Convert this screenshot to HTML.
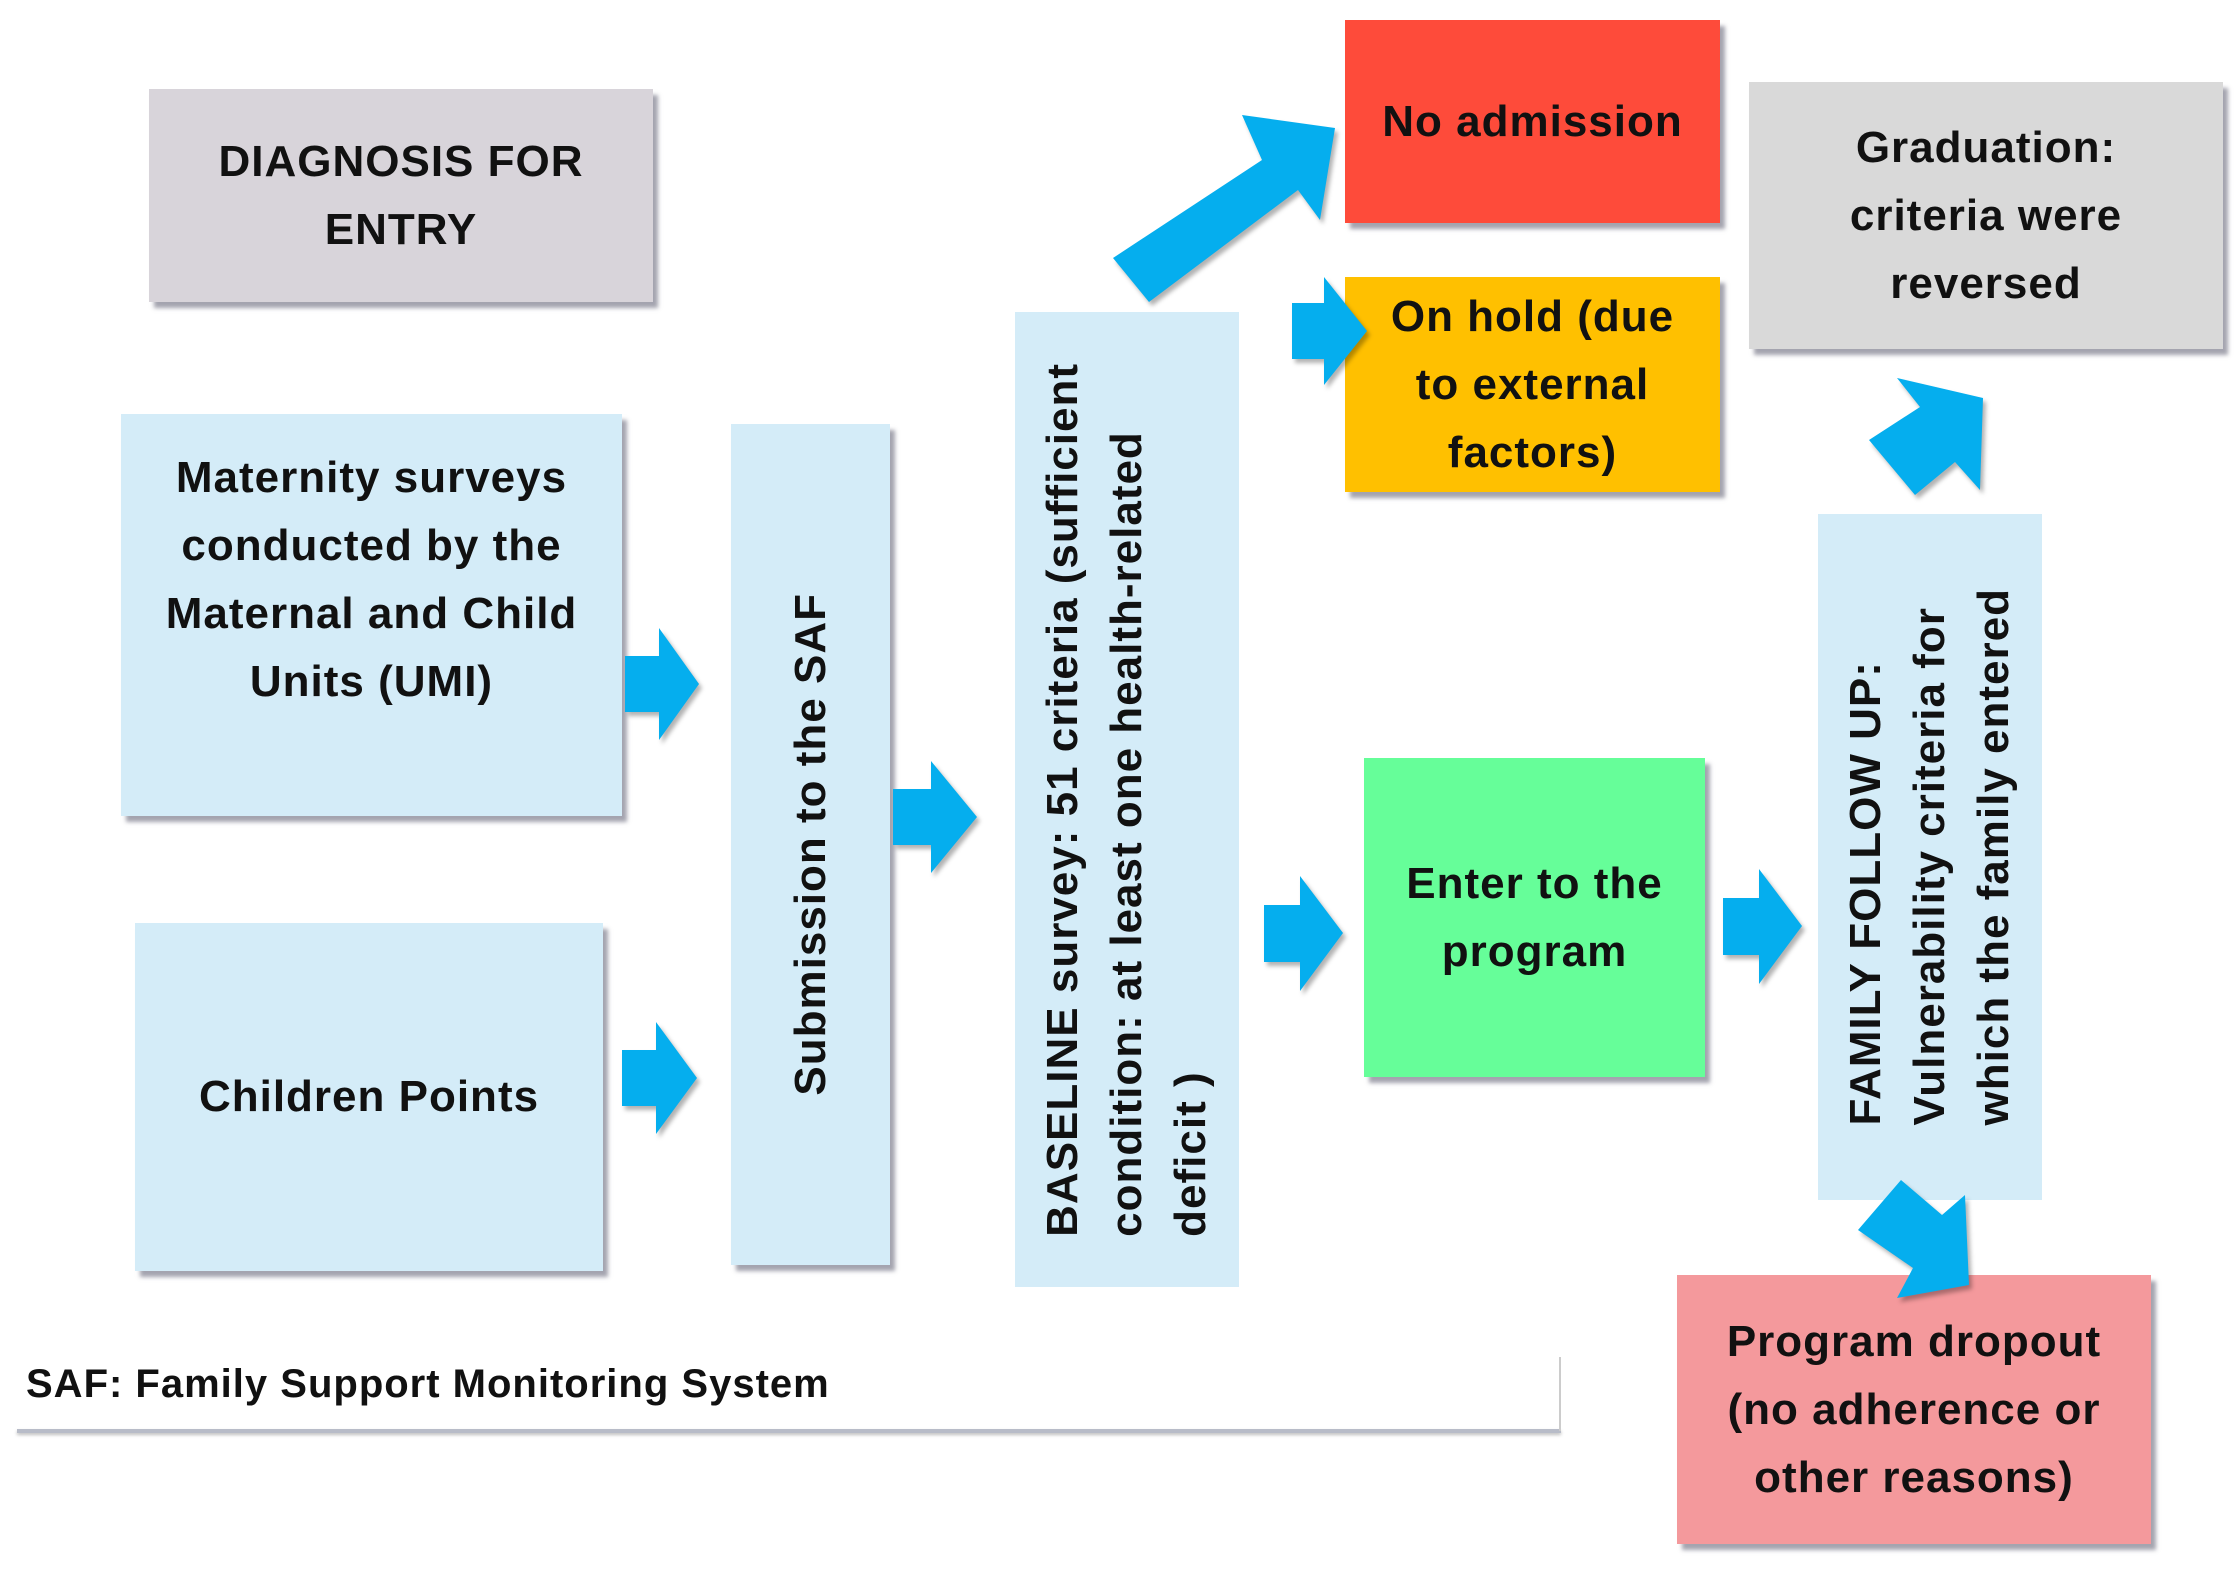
<!DOCTYPE html>
<html><head><meta charset="utf-8"><style>
html,body{margin:0;padding:0;background:#fff;}
body{width:2240px;height:1571px;position:relative;overflow:hidden;font-family:"Liberation Sans",sans-serif;font-weight:bold;color:#111;}
.b{position:absolute;display:flex;align-items:center;justify-content:center;text-align:center;box-sizing:border-box;font-size:44px;line-height:68px;letter-spacing:1px;}
.sh{box-shadow:5px 6px 4px rgba(90,90,110,.55);}
.v{writing-mode:vertical-rl;transform:rotate(180deg);}
.lb{background:#d4ecf8;}
</style></head><body>
<div class="b sh" style="left:149px;top:89px;width:504px;height:213px;background:#d8d4da;">DIAGNOSIS FOR<br>ENTRY</div>
<div class="b sh lb" style="left:121px;top:414px;width:501px;height:402px;padding-bottom:70px;">Maternity surveys<br>conducted by the<br>Maternal and Child<br>Units (UMI)</div>
<div class="b sh lb" style="left:135px;top:923px;width:468px;height:348px;">Children Points</div>
<div class="b sh lb" style="left:731px;top:424px;width:159px;height:841px;font-weight:normal;font-family:'Liberation Sans',sans-serif;"><span class="v" style="font-weight:bold;">Submission to the SAF</span></div>
<div class="b lb" style="left:1015px;top:312px;width:224px;height:975px;"><span class="v" style="line-height:64px;text-align:left;">BASELINE survey: 51 criteria (sufficient<br>condition: at least one health-related<br>deficit )</span></div>
<div class="b sh" style="left:1345px;top:20px;width:375px;height:203px;background:#fe4b3a;">No admission</div>
<div class="b sh" style="left:1345px;top:277px;width:375px;height:215px;background:#ffc000;">On hold (due<br>to external<br>factors)</div>
<div class="b sh" style="left:1749px;top:82px;width:474px;height:267px;background:#d9d9d9;">Graduation:<br>criteria were<br>reversed</div>
<div class="b sh" style="left:1364px;top:758px;width:341px;height:319px;background:#66fe99;">Enter to the<br>program</div>
<div class="b lb" style="left:1818px;top:514px;width:224px;height:686px;"><span class="v" style="line-height:64px;text-align:left;">FAMILY FOLLOW UP:<br>Vulnerability criteria for<br>which the family entered</span></div>
<div class="b sh" style="left:1677px;top:1275px;width:474px;height:269px;background:#f4999c;">Program dropout<br>(no adherence or<br>other reasons)</div>
<div style="position:absolute;left:17px;top:1429px;width:1544px;height:4px;background:#b8bcc8;box-shadow:0 2px 3px rgba(0,0,0,.25);"></div>
<div style="position:absolute;left:1559px;top:1357px;width:2px;height:74px;background:#ccc;"></div>
<div style="position:absolute;left:26px;top:1362px;font-size:40px;letter-spacing:1px;">SAF: Family Support Monitoring System</div>
<svg width="2240" height="1571" style="position:absolute;left:0;top:0;" xmlns="http://www.w3.org/2000/svg">
<g fill="#05aeee" style="filter:drop-shadow(3px 4px 2px rgba(0,0,0,.3))">
<polygon points="625,656 659,656 659,628 699,684 659,740 659,712 625,712"/>
<polygon points="622,1050 656,1050 656,1022 697,1078 656,1134 656,1106 622,1106"/>
<polygon points="893,789 931,789 931,761 977,817 931,873 931,845 893,845"/>
<polygon points="1264,905 1300,905 1300,876 1343,933 1300,991 1300,962 1264,962"/>
<polygon points="1723,898 1759,898 1759,869 1802,926 1759,984 1759,955 1723,955"/>
<polygon points="1292,303 1324,303 1324,277 1367,331 1324,385 1324,359 1292,359"/>
<polygon points="1113,258 1262,160 1242,115 1335,128 1320,220 1298,190 1149,302"/>
<polygon points="1869,440 1920,407 1897,378 1983,398 1980,490 1955,462 1915,495"/>
<polygon points="1901,1180 1942,1215 1965,1195 1969,1285 1897,1298 1913,1268 1858,1230"/>
</g></svg>
</body></html>
